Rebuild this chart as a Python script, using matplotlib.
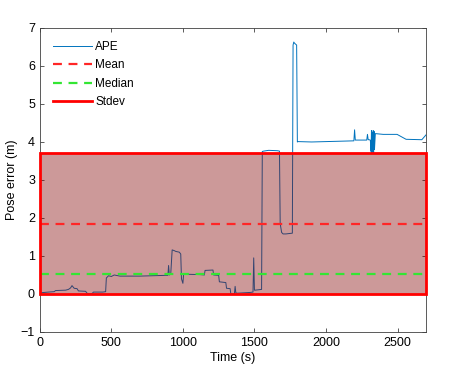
import matplotlib
matplotlib.use("Agg")
import matplotlib.pyplot as plt
from matplotlib.patches import Rectangle

plt.rcParams["font.family"] = ["Liberation Sans", "DejaVu Sans"]

# APE trace (time in s, error in m)
time_s = [0, 60, 100, 110, 180, 200, 215, 225, 240, 260, 270, 320, 330, 345, 365, 375, 440,
          460, 465, 480, 500, 520, 560, 700, 880, 895, 900, 905, 915, 925, 940, 950, 975,
          985, 990, 1000, 1005, 1010, 1120, 1150, 1155, 1210, 1215, 1250, 1255, 1300, 1305,
          1330, 1335, 1360, 1365, 1370, 1380, 1470, 1490, 1495, 1500, 1505, 1550, 1555,
          1565, 1600, 1660, 1675, 1680, 1690, 1700, 1720, 1765, 1770, 1775, 1780, 1795,
          1800, 1805, 1900, 2100, 2195, 2200, 2205, 2210, 2215, 2285, 2290, 2295, 2300,
          2310, 2315, 2318, 2321, 2324, 2327, 2330, 2333, 2336, 2339, 2345, 2400, 2492,
          2497, 2560, 2565, 2665, 2670, 2700]
ape_m = [0.03, 0.05, 0.06, 0.09, 0.10, 0.12, 0.16, 0.22, 0.15, 0.14, 0.08, 0.07, 0.02, 0.00,
         0.01, 0.05, 0.05, 0.06, 0.42, 0.48, 0.46, 0.50, 0.47, 0.47, 0.49, 0.49, 0.75, 0.50,
         0.52, 1.16, 1.14, 1.12, 1.10, 1.05, 0.40, 0.28, 0.52, 0.52, 0.51, 0.50, 0.62, 0.63,
         0.50, 0.49, 0.32, 0.30, 0.15, 0.14, 0.00, 0.00, 0.20, 0.03, 0.02, 0.04, 0.05, 0.95,
         0.10, 0.10, 0.12, 3.75, 3.76, 3.78, 3.77, 3.76, 1.85, 1.62, 1.58, 1.58, 1.60, 6.55,
         6.63, 6.60, 6.55, 4.00, 4.01, 4.00, 4.02, 4.03, 4.32, 4.05, 4.05, 4.05, 4.05, 4.20,
         4.06, 4.06, 4.05, 3.75, 4.30, 3.70, 4.25, 3.75, 4.30, 3.72, 4.28, 3.80, 4.22, 4.20,
         4.20, 4.20, 4.07, 4.07, 4.06, 4.06, 4.19]

mean_m = 1.85
median_m = 0.52
stdev_top = 3.72
t_end = 2700

fig = plt.figure(figsize=(4.74, 3.73), dpi=100)
ax = fig.add_axes([0.084, 0.110, 0.815, 0.815])

ax.plot(time_s, ape_m, color=(0.0, 0.45, 0.74), lw=0.7, label="APE", zorder=1)
ax.plot([0, t_end], [mean_m, mean_m], "--", color=(1, 0.15, 0.15), lw=1.6,
        dashes=(4, 3), label="Mean", zorder=4)
ax.plot([0, t_end], [median_m, median_m], "--", color=(0.2, 0.9, 0.2), lw=1.6,
        dashes=(4, 3), label="Median", zorder=4)

box = Rectangle((0, 0), t_end, stdev_top, facecolor=(0.5, 0, 0), alpha=0.4,
                edgecolor="none", zorder=2)
ax.add_patch(box)
edge = Rectangle((0, 0), t_end, stdev_top, facecolor="none", edgecolor="red",
                 lw=2.0, zorder=5, clip_on=False)
ax.add_patch(edge)
ax.plot([], [], color="red", lw=2.0, label="Stdev")

ax.set_xlim(0, 2700)
ax.set_ylim(-1, 7)
ax.set_xticks([0, 500, 1000, 1500, 2000, 2500])
ax.set_yticks(range(-1, 8))
ax.set_yticklabels(["\u22121"] + [str(v) for v in range(0, 8)])
ax.tick_params(direction="in", top=True, right=True, labelsize=9, length=3,
               color="#404040", width=0.6)
for s in ax.spines.values():
    s.set_color("#404040")
    s.set_linewidth(0.6)
ax.set_xlabel("Time (s)", fontsize=9, labelpad=2)
ax.set_ylabel("Pose error (m)", fontsize=9, labelpad=2)

ax.legend(loc="upper left", frameon=False, fontsize=8.5, handlelength=3.3,
          handletextpad=0.3, labelspacing=0.55, borderaxespad=0.7)

fig.savefig("out.png", dpi=100)
